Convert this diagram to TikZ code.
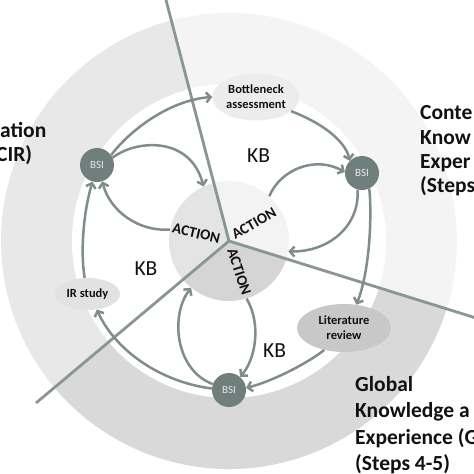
\documentclass[tikz,border=0pt]{standalone}
\usepackage{fontspec}
\setmainfont{Carlito}
\usetikzlibrary{arrows.meta,shapes.geometric}
\definecolor{arr}{RGB}{128,141,138}
\definecolor{divc}{RGB}{138,150,147}
\definecolor{bsifill}{RGB}{113,127,124}
\definecolor{bsitext}{RGB}{228,231,230}
\definecolor{ringL}{RGB}{232,232,232}
\definecolor{ringTR}{RGB}{244,244,244}
\definecolor{ringB}{RGB}{217,217,217}
\definecolor{coreL}{RGB}{228,228,228}
\definecolor{coreTR}{RGB}{243,243,243}
\definecolor{coreB}{RGB}{213,213,213}
\definecolor{bnfill}{RGB}{236,236,236}
\definecolor{irfill}{RGB}{226,226,226}
\definecolor{litfill}{RGB}{200,200,200}
\definecolor{txt}{RGB}{17,17,17}
\begin{document}
\begin{tikzpicture}[x=1pt,y=-1pt,
  conn/.style={draw=arr, line width=2.5pt, -{Straight Barb[length=4.5pt,width=10pt]}},
  divider/.style={draw=divc, line width=2.8pt},
  bsi/.style={circle, fill=bsifill, minimum size=34pt, inner sep=0pt, text=bsitext, font=\fontsize{11}{13}\selectfont},
  blob/.style={ellipse, inner sep=0pt, align=center, text=txt, font=\bfseries\fontsize{12.5}{15}\selectfont},
  big/.style={anchor=base west, inner sep=0pt, text=txt, font=\bfseries\fontsize{21.5}{26}\selectfont},
  kb/.style={inner sep=0pt, text=txt, font=\fontsize{21.5}{26}\selectfont},
  act/.style={inner sep=0pt, text=txt, font=\bfseries\fontsize{15}{17}\selectfont}
]
\useasboundingbox (0,0) rectangle (474,474);
\clip (0,0) rectangle (474,474);
\coordinate (c) at (229,241);
\coordinate (e1) at (166,0);
\coordinate (e2) at (476,318);
\coordinate (e3) at (36,403);
% outer ring sectors
\fill[ringTR] (c) -- ++(-104.65:228) arc[start angle=-104.65, end angle=17.45, radius=228] -- cycle;
\fill[ringB] (c) -- ++(17.45:228) arc[start angle=17.45, end angle=140, radius=228] -- cycle;
\fill[ringL] (c) -- ++(140:228) arc[start angle=140, end angle=255.35, radius=228] -- cycle;
\fill[white] (c) circle[radius=157];
% core sectors
\fill[coreTR] (c) -- ++(-104.65:60) arc[start angle=-104.65, end angle=17.45, radius=60] -- cycle;
\fill[coreB] (c) -- ++(17.45:60) arc[start angle=17.45, end angle=140, radius=60] -- cycle;
\fill[coreL] (c) -- ++(140:60) arc[start angle=140, end angle=255.35, radius=60] -- cycle;
\node[circle, minimum size=120pt, inner sep=0pt] (core) at (c) {};
% dividers
\draw[divider] (c) -- (e1);
\draw[divider] (c) -- (e2);
\draw[divider] (c) -- (e3);
% ellipses
\node[blob, fill=bnfill, minimum width=87pt, minimum height=47pt] (bneck) at (256,97) {Bottleneck\\assessment};
\node[blob, fill=irfill, minimum width=65pt, minimum height=32pt] (ir) at (87.5,294) {IR study};
\node[blob, fill=litfill, minimum width=94pt, minimum height=48pt] (lit) at (344,328) {Literature\\review};
% BSI
\node[bsi] (bsiTL) at (97,165) {BSI};
\node[bsi] (bsiR) at (362,173) {BSI};
\node[bsi] (bsiB) at (229,390) {BSI};
% connectors
\draw[conn] (bsiTL.35) .. controls (130,130) and (170,100) .. (bneck.180);
\draw[conn] (bsiTL.25) .. controls (135,140) and (190,135) .. (core.115);
\draw[conn] (core.169) .. controls (140,232) and (110,212) .. (bsiTL.-72);
\draw[conn] (ir.100) .. controls (80,250) and (84,210) .. (bsiTL.-105);
\draw[conn] (bneck.-22) .. controls (320,122) and (345,140) .. (bsiR.135);
\draw[conn] (core.48) .. controls (280,170) and (315,155) .. (bsiR.177);
\draw[conn] (bsiR.-65) .. controls (372,215) and (370,270) .. (lit.62);
\draw[conn] (bsiR.-105) .. controls (360,225) and (330,252) .. (core.-10);
\draw[conn] (lit.-132) .. controls (305,365) and (270,382) .. (bsiB.7);
\draw[conn] (core.-73) .. controls (262,325) and (255,360) .. (bsiB.50);
\draw[conn] (bsiB.160) .. controls (175,370) and (170,315) .. (core.-129);
\draw[conn] (bsiB.175) .. controls (160,382) and (115,350) .. (ir.-59);
% ACTION labels
\node[act, rotate=-13] (actL) at (196.3,233.3) {ACTION};
\node[act, rotate=30] (actTR) at (254,223.3) {ACTION};
\node[act, rotate=-72] (actB) at (239.3,271.7) {ACTION};
% KB labels
\node[kb] (kb1) at (258.5,156) {KB};
\node[kb] (kb2) at (146,268.5) {KB};
\node[kb] (kb3) at (274.5,351) {KB};
% big labels
\node[big] (l1) at (0,137) {ation};
\node[big] (l2) at (-4,161) {CIR)};
\node[big] (r1) at (420,119) {Conte};
\node[big] (r2) at (420,144) {Know};
\node[big] (r3) at (420,168) {Exper};
\node[big] (r4) at (420,192) {(Steps};
\node[big] (g1) at (355,391) {Global};
\node[big] (g2) at (355,417) {Knowledge a};
\node[big] (g3) at (355,444) {Experience (G};
\node[big] (g4) at (355,470) {(Steps 4-5)};
\end{tikzpicture}
\end{document}
